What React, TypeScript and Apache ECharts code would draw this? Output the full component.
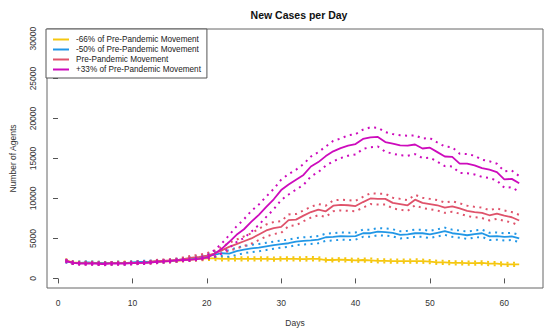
import React, { useEffect, useRef } from "react";
import * as echarts from "echarts";

const days = Array.from({ length: 62 }, (_, i) => i + 1);

const seriesNames = [
  "-66% of Pre-Pandemic Movement",
  "-50% of Pre-Pandemic Movement",
  "Pre-Pandemic Movement",
  "+33% of Pre-Pandemic Movement",
];
const colors = ["#F5C710", "#2297E6", "#DF536B", "#CD0BBC"];

const xTicks = [0, 10, 20, 30, 40, 50, 60];
const yTicks = [0, 5000, 10000, 15000, 20000, 25000, 30000];

// -66%
const yelMean = [2250,2000,1950,1950,1950,1900,1900,1950,1950,1950,2000,2000,2050,2100,2150,2200,2300,2350,2450,2500,2500,2450,2450,2450,2450,2450,2450,2450,2400,2450,2450,2450,2400,2450,2450,2300,2300,2350,2300,2250,2300,2250,2200,2200,2150,2150,2150,2150,2150,2100,2000,2000,1950,1950,1900,1900,1950,1850,1850,1750,1750,1750];
const yelUp = [2400,2150,2100,2100,2100,2050,2050,2100,2100,2100,2150,2150,2200,2250,2300,2350,2450,2500,2650,2700,2700,2650,2650,2650,2650,2650,2650,2650,2600,2650,2650,2650,2650,2700,2650,2500,2500,2550,2500,2450,2500,2500,2400,2400,2350,2350,2350,2400,2350,2300,2200,2200,2150,2150,2100,2100,2150,2050,2050,1950,1950,1950];
const yelLow = [2100,1850,1800,1800,1800,1750,1750,1800,1800,1800,1850,1850,1900,1950,2000,2050,2150,2200,2250,2300,2300,2250,2250,2250,2250,2250,2250,2250,2200,2250,2250,2250,2200,2250,2250,2100,2100,2150,2100,2050,2100,2050,2000,2000,1950,1950,1950,1950,1950,1900,1800,1800,1750,1750,1700,1700,1750,1650,1650,1550,1550,1550];

// -50%
const bluMean = [2150,1950,1950,2000,1950,1900,1900,1950,1900,2000,2050,2050,2100,2150,2200,2300,2400,2500,2600,2800,2950,3150,3100,3400,3600,3750,3850,4000,4150,4300,4400,4600,4700,4750,4850,5150,5200,5300,5250,5300,5650,5650,5850,5800,5700,5450,5500,5650,5650,5500,5700,5900,5650,5550,5400,5550,5650,5250,5300,5200,5250,5000];
const bluUp = [2300,2100,2100,2150,2100,2050,2050,2100,2050,2150,2200,2200,2250,2300,2350,2450,2550,2700,2800,3050,3250,3500,3500,3850,4050,4200,4300,4450,4600,4750,4850,5050,5150,5200,5300,5600,5650,5750,5700,5750,6100,6100,6300,6250,6150,5900,5950,6100,6100,5950,6150,6350,6100,6000,5850,6000,6100,5700,5750,5650,5700,5450];
const bluLow = [2000,1800,1800,1850,1800,1750,1750,1800,1750,1850,1900,1900,1950,2000,2050,2150,2250,2300,2400,2550,2650,2800,2700,2950,3150,3300,3400,3550,3700,3850,3950,4150,4250,4300,4400,4700,4750,4850,4800,4850,5200,5200,5400,5350,5250,5000,5050,5200,5200,5050,5250,5450,5200,5100,4950,5100,5200,4800,4850,4750,4800,4550];

// Pre-pandemic
const redMean = [2250,1950,1900,1900,1900,1850,1900,1900,1900,1950,1950,2000,2150,2200,2250,2300,2450,2600,2700,2850,3100,3500,3950,4300,4650,5000,5500,6000,6300,6450,7300,7350,7850,8300,8600,8400,9100,9200,9150,9050,9550,10000,9950,9950,9450,9300,9150,9850,9450,9300,9150,8850,9000,8750,8450,8300,8200,7900,8100,7850,7650,7250];
const redUp = [2400,2100,2050,2050,2050,2000,2050,2050,2050,2100,2100,2150,2300,2350,2400,2500,2650,2850,2950,3150,3450,3900,4450,4850,5250,5650,6200,6750,7050,7150,8000,8050,8500,8950,9300,9100,9750,9850,9800,9700,10200,10650,10600,10600,10100,9950,9800,10450,10100,9950,9800,9500,9650,9400,9100,8950,8850,8550,8750,8500,8300,7950];
const redLow = [2100,1800,1750,1750,1750,1700,1750,1750,1750,1800,1800,1850,2000,2050,2100,2100,2250,2350,2450,2550,2750,3100,3450,3750,4050,4350,4800,5250,5550,5700,6550,6650,7150,7600,7900,7700,8400,8500,8450,8400,8850,9300,9250,9250,8750,8600,8450,9150,8800,8650,8500,8200,8350,8100,7800,7650,7550,7250,7450,7200,7000,6600];

// +33%
const magMean = [2200,1950,1850,1850,1850,1800,1850,1850,1850,1900,1950,1950,2050,2100,2150,2250,2300,2350,2450,2600,3050,3700,4550,5450,6150,7100,7950,8950,9900,11050,11750,12350,12950,14000,14550,15300,15900,16300,16600,16800,17450,17650,17700,17050,16850,16650,16600,16750,16250,16350,15800,15250,15200,14350,14350,14150,13800,13600,13300,12400,12450,11900];
const magUp = [2350,2100,2000,2000,2000,1950,2000,2000,2000,2050,2100,2100,2200,2250,2300,2400,2450,2500,2600,2850,3500,4350,5400,6500,7400,8450,9250,10250,11200,12350,13050,13600,14300,15250,15800,16500,17200,17500,17900,18050,18600,18900,18850,18300,18050,17900,17850,17900,17500,17550,17000,16500,16400,15600,15550,15350,14850,14650,14350,13400,13500,12800];
const magLow = [2050,1800,1700,1700,1700,1650,1700,1700,1700,1750,1800,1800,1900,1950,2000,2100,2150,2200,2300,2400,2700,3150,3800,4550,5050,5850,6700,7700,8650,9800,10500,11100,11700,12750,13300,14100,14650,15050,15350,15500,16200,16400,16500,15850,15600,15400,15350,15550,15050,15100,14600,14050,14000,13200,13150,13000,12700,12550,12250,11350,11400,10850];

const groups = [
  [yelMean, yelUp, yelLow],
  [bluMean, bluUp, bluLow],
  [redMean, redUp, redLow],
  [magMean, magUp, magLow],
];

const FONT = "Liberation Sans, Arial, sans-serif";

export default function App() {
  const ref = useRef<HTMLDivElement>(null);
  useEffect(() => {
    if (!ref.current) return;
    const chart = echarts.init(ref.current, null, { renderer: "svg" });
    const series: any[] = [];
    groups.forEach((g, gi) => {
      const [mean, up, low] = g;
      const col = colors[gi];
      [up, low].forEach((arr, k) => {
        series.push({
          name: `${seriesNames[gi]} bound ${k}`,
          type: "line",
          data: days.map((d, i) => [d, arr[i]]),
          showSymbol: false,
          symbol: "none",
          silent: true,
          lineStyle: { color: col, width: 2, type: [2, 4.5] },
          itemStyle: { color: col },
          z: 2 + gi,
        });
      });
      series.push({
        name: seriesNames[gi],
        type: "line",
        data: days.map((d, i) => [d, mean[i]]),
        showSymbol: false,
        symbol: "none",
        silent: true,
        lineStyle: { color: col, width: 1.8, type: "solid" },
        itemStyle: { color: col },
        z: 2 + gi,
      });
    });

    chart.setOption({
      animation: false,
      backgroundColor: "#ffffff",
      textStyle: { fontFamily: FONT },
      title: {
        text: "New Cases per Day",
        left: 294,
        top: 4,
        textAlign: "center",
        textStyle: { fontSize: 10.5, fontWeight: "bold", color: "#111", fontFamily: FONT },
      },
      grid: {
        left: 46,
        right: 7,
        top: 29,
        bottom: 48,
        show: true,
        borderColor: "#666",
        borderWidth: 1,
        backgroundColor: "transparent",
      },
      legend: {
        data: seriesNames,
        orient: "vertical",
        left: 46,
        top: 29,
        padding: [6, 6, 4, 7],
        itemGap: 1,
        itemWidth: 16,
        itemHeight: 2,
        icon: "rect",
        borderColor: "#555",
        borderWidth: 1,
        backgroundColor: "#fff",
        selectedMode: false,
        textStyle: { fontSize: 8.2, lineHeight: 9, color: "#222", fontFamily: FONT, padding: [0, 0, 0, 2] },
      },
      xAxis: {
        type: "value",
        min: -1.48,
        max: 65.2,
        axisLine: { show: false },
        splitLine: { show: false },
        axisTick: { show: true, customValues: xTicks, length: 5, lineStyle: { color: "#555" } },
        axisLabel: { customValues: xTicks, fontSize: 8.5, margin: 10, color: "#333", fontFamily: FONT },
        name: "Days",
        nameLocation: "middle",
        nameGap: 30,
        nameTextStyle: { fontSize: 8.5, color: "#333", fontFamily: FONT },
      },
      yAxis: {
        type: "value",
        min: -1200,
        max: 31200,
        axisLine: { show: false },
        splitLine: { show: false },
        axisTick: { show: true, customValues: yTicks, length: 5, lineStyle: { color: "#555" } },
        axisLabel: {
          customValues: yTicks,
          fontSize: 8.5,
          margin: 10,
          rotate: 90,
          color: "#333",
          fontFamily: FONT,
          formatter: (v: number) => String(v),
        },
        name: "Number of Agents",
        nameLocation: "middle",
        nameGap: 30,
        nameTextStyle: { fontSize: 8.5, color: "#333", fontFamily: FONT },
      },
      series,
    });
    return () => chart.dispose();
  }, []);
  return <div ref={ref} style={{ width: 550, height: 336, position: "absolute", left: 0, top: 0 }} />;
}
